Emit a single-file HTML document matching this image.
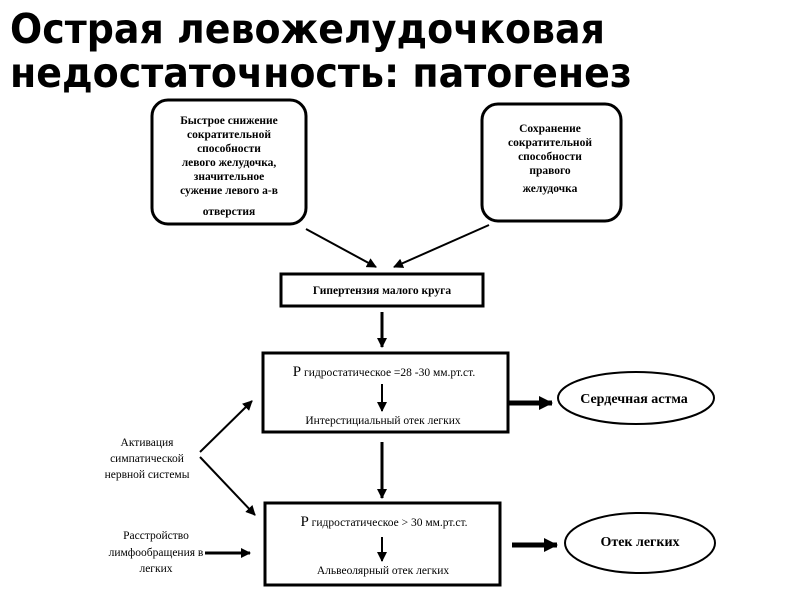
<!DOCTYPE html>
<html><head><meta charset="utf-8"><style>body{margin:0;background:#fff}svg{display:block}</style></head><body>
<svg width="800" height="600" viewBox="0 0 800 600" xmlns="http://www.w3.org/2000/svg">
<defs>
<marker id="a" markerWidth="10" markerHeight="10" refX="9" refY="5" orient="auto" markerUnits="userSpaceOnUse"><path d="M0,0 L10,5 L0,10 z" fill="#000"/></marker>
<marker id="b" markerWidth="14" markerHeight="14" refX="13" refY="7" orient="auto" markerUnits="userSpaceOnUse"><path d="M0,0 L14,7 L0,14 z" fill="#000"/></marker>
</defs>
<g font-family="DejaVu Sans, sans-serif" font-weight="bold" font-size="41">
<text x="10" y="43" textLength="595" lengthAdjust="spacingAndGlyphs">Острая левожелудочковая</text>
<text x="10" y="87" textLength="622" lengthAdjust="spacingAndGlyphs">недостаточность: патогенез</text>
</g>
<g fill="none" stroke="#000" stroke-width="3">
<rect x="152" y="100" width="154" height="124" rx="16"/>
<rect x="482" y="104" width="139" height="117" rx="16"/>
<rect x="281" y="274" width="202" height="32"/>
<rect x="263" y="353" width="245" height="79"/>
<rect x="265" y="503" width="235" height="82"/>
<ellipse cx="636" cy="398" rx="78" ry="26" stroke-width="2"/>
<ellipse cx="640" cy="543" rx="75" ry="30" stroke-width="2"/>
</g>
<g stroke="#000" stroke-width="2" fill="none">
<line x1="306" y1="229" x2="376" y2="267" marker-end="url(#a)"/>
<line x1="489" y1="225" x2="394" y2="267" marker-end="url(#a)"/>
<line x1="382" y1="312" x2="382" y2="347" stroke-width="3" marker-end="url(#a)"/>
<line x1="382" y1="384" x2="382" y2="411" marker-end="url(#a)"/>
<line x1="382" y1="442" x2="382" y2="498" stroke-width="3" marker-end="url(#a)"/>
<line x1="382" y1="537" x2="382" y2="561" marker-end="url(#a)"/>
<line x1="200" y1="452" x2="252" y2="401" marker-end="url(#a)"/>
<line x1="200" y1="457" x2="255" y2="515" marker-end="url(#a)"/>
<line x1="205" y1="553" x2="250" y2="553" stroke-width="3" marker-end="url(#a)"/>
<line x1="508" y1="403" x2="552" y2="403" stroke-width="5" marker-end="url(#b)"/>
<line x1="512" y1="545" x2="557" y2="545" stroke-width="5" marker-end="url(#b)"/>
</g>
<g font-family="Liberation Serif, serif" font-size="11.5" font-weight="bold" text-anchor="middle">
<text x="229" y="124">Быстрое снижение</text>
<text x="229" y="138">сократительной</text>
<text x="229" y="152">способности</text>
<text x="229" y="166">левого желудочка,</text>
<text x="229" y="180">значительное</text>
<text x="229" y="194">сужение левого а-в</text>
<text x="229" y="215">отверстия</text>
<text x="550" y="132">Сохранение</text>
<text x="550" y="146">сократительной</text>
<text x="550" y="160">способности</text>
<text x="550" y="174">правого</text>
<text x="550" y="192">желудочка</text>
<text x="382" y="294">Гипертензия малого круга</text>
</g>
<g font-family="Liberation Serif, serif" font-size="11.5" text-anchor="middle">
<text x="384" y="376"><tspan font-size="15">Р</tspan> гидростатическое =28 -30 мм.рт.ст.</text>
<text x="383" y="424">Интерстициальный отек легких</text>
<text x="384" y="526"><tspan font-size="15">Р</tspan> гидростатическое &gt; 30 мм.рт.ст.</text>
<text x="383" y="574">Альвеолярный отек легких</text>
<text x="147" y="446">Активация</text>
<text x="147" y="462">симпатической</text>
<text x="147" y="478">нервной системы</text>
<text x="156" y="539">Расстройство</text>
<text x="156" y="556">лимфообращения в</text>
<text x="156" y="572">легких</text>
</g>
<g font-family="Liberation Serif, serif" font-size="14" font-weight="bold" text-anchor="middle">
<text x="634" y="403">Сердечная астма</text>
<text x="640" y="546">Отек легких</text>
</g>
</svg>
</body></html>
